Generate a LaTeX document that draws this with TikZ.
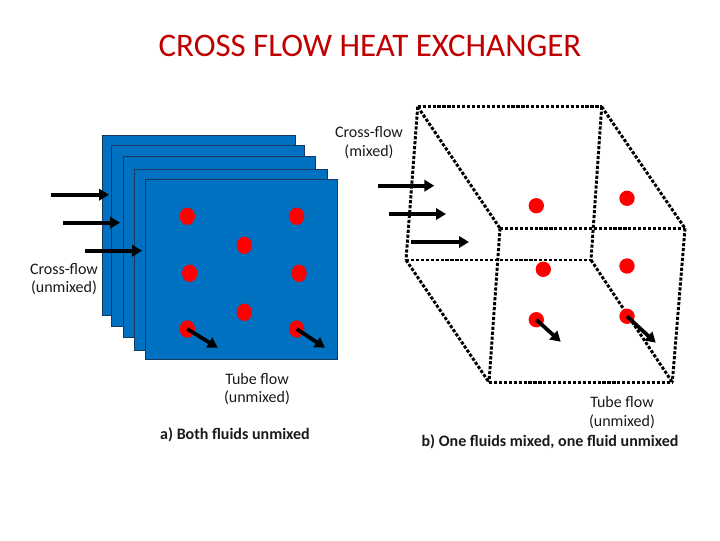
\documentclass[tikz,border=0pt]{standalone}
\usepackage{fontspec}
\setmainfont{Carlito}
\usepackage{xcolor}
\definecolor{plateblue}{HTML}{0070C0}
\definecolor{platedark}{HTML}{17375E}
\definecolor{tubered}{HTML}{FF0000}
\definecolor{titlered}{HTML}{C00000}
\usetikzlibrary{arrows.meta,shapes.geometric}

\begin{document}
\begin{tikzpicture}[
  x=0.75pt, y=-0.75pt,
  plate/.style={draw=platedark, fill=plateblue, line width=0.8pt},
  tube/.style={fill=tubered, ellipse, inner sep=0pt, minimum width=11.5pt, minimum height=13pt},
  hole/.style={fill=tubered, circle, inner sep=0pt, minimum size=11.5pt},
  flow/.style={draw=black, line width=2.8pt, -{Triangle[length=7.5pt,width=8.5pt]}},
  wire/.style={draw=black, line width=2.2pt, dash pattern=on 2.4pt off 1.3pt},
  lbl/.style={font=\fontsize{12}{14}\selectfont, align=center, text=black!90},
  capt/.style={font=\fontsize{12}{14}\selectfont\bfseries, text=black!90}
]
\useasboundingbox (0,0) rectangle (720,540);

\node[font=\fontsize{24.7}{28}\selectfont, text=titlered] (title) at (370,46) {CROSS FLOW HEAT EXCHANGER};

%% Stack of plates
\foreach \n/\xa/\ya/\xb/\yb in {1/102.3/135.3/295.7/315.3, 2/111.3/145.3/304.7/326.3,
    3/123.3/156.7/315.7/337.3, 4/134.3/169.3/327.7/350.3, 5/145.3/179.3/337.3/359.3}
  \draw[plate] (\xa,\ya) rectangle (\xb,\yb);

\foreach \n/\x/\y in {1/187.3/216.3, 2/296.7/216.3, 3/244.3/245.3, 4/189.7/273.3,
    5/299/273.3, 6/244.3/312.3, 7/187.3/329, 8/296.7/329}
  \node[tube] (t\n) at (\x,\y) {};

%% Box corners
\coordinate (ba) at (417.7,106.7);
\coordinate (bb) at (601.7,106.7);
\coordinate (bc) at (685,228.3);
\coordinate (bd) at (500,228.3);
\coordinate (be) at (406,260);
\coordinate (bf) at (591,260);
\coordinate (bg) at (489,382.3);
\coordinate (bh) at (672.3,382.3);
\foreach \p/\q in {ba/bb,ba/bd,bb/bc,bd/bc,ba/be,bb/bf,be/bf,be/bg,bf/bh,bg/bh,bd/bg,bc/bh}
  \draw[wire] (\p) -- (\q);

\foreach \n/\x/\y in {1/536.3/205.7, 2/627/198.3, 3/543.3/269.3, 4/627/266, 5/536.3/319.7, 6/627/316.3}
  \node[hole] (h\n) at (\x,\y) {};

%% Cross-flow arrows
\foreach \n/\xa/\xb/\y in {1/51/109/194.7, 2/63/120/222.7, 3/85/142/250.7,
    4/378/434.3/185.7, 5/389.3/446/214, 6/411/469/242} {
  \coordinate (cs\n) at (\xa,\y);
  \coordinate (ce\n) at (\xb,\y);
  \draw[flow] (cs\n) -- (ce\n);
}

%% Tube flow arrows
\coordinate (e7) at (217.7,347.7);
\coordinate (e8) at (325,347.7);
\coordinate (e5) at (560.7,341.7);
\coordinate (e6) at (655.7,342.7);
\draw[flow] (t7.center) -- (e7);
\draw[flow] (t8.center) -- (e8);
\draw[flow] (h5.center) -- (e5);
\draw[flow] (h6.center) -- (e6);

\node[lbl] (crossm) at (369,142.5) {Cross-flow\\(mixed)};
\node[lbl] (crossu) at (64,279) {Cross-flow\\(unmixed)};
\node[lbl] (tubea) at (257,389) {Tube flow\\(unmixed)};
\node[lbl] (tubeb) at (622,412.5) {Tube flow\\(unmixed)};
\node[capt] (capa) at (235,435) {a) Both fluids unmixed};
\node[capt] (capb) at (550,441.5) {b) One fluids mixed, one fluid unmixed};

\end{tikzpicture}
\end{document}
